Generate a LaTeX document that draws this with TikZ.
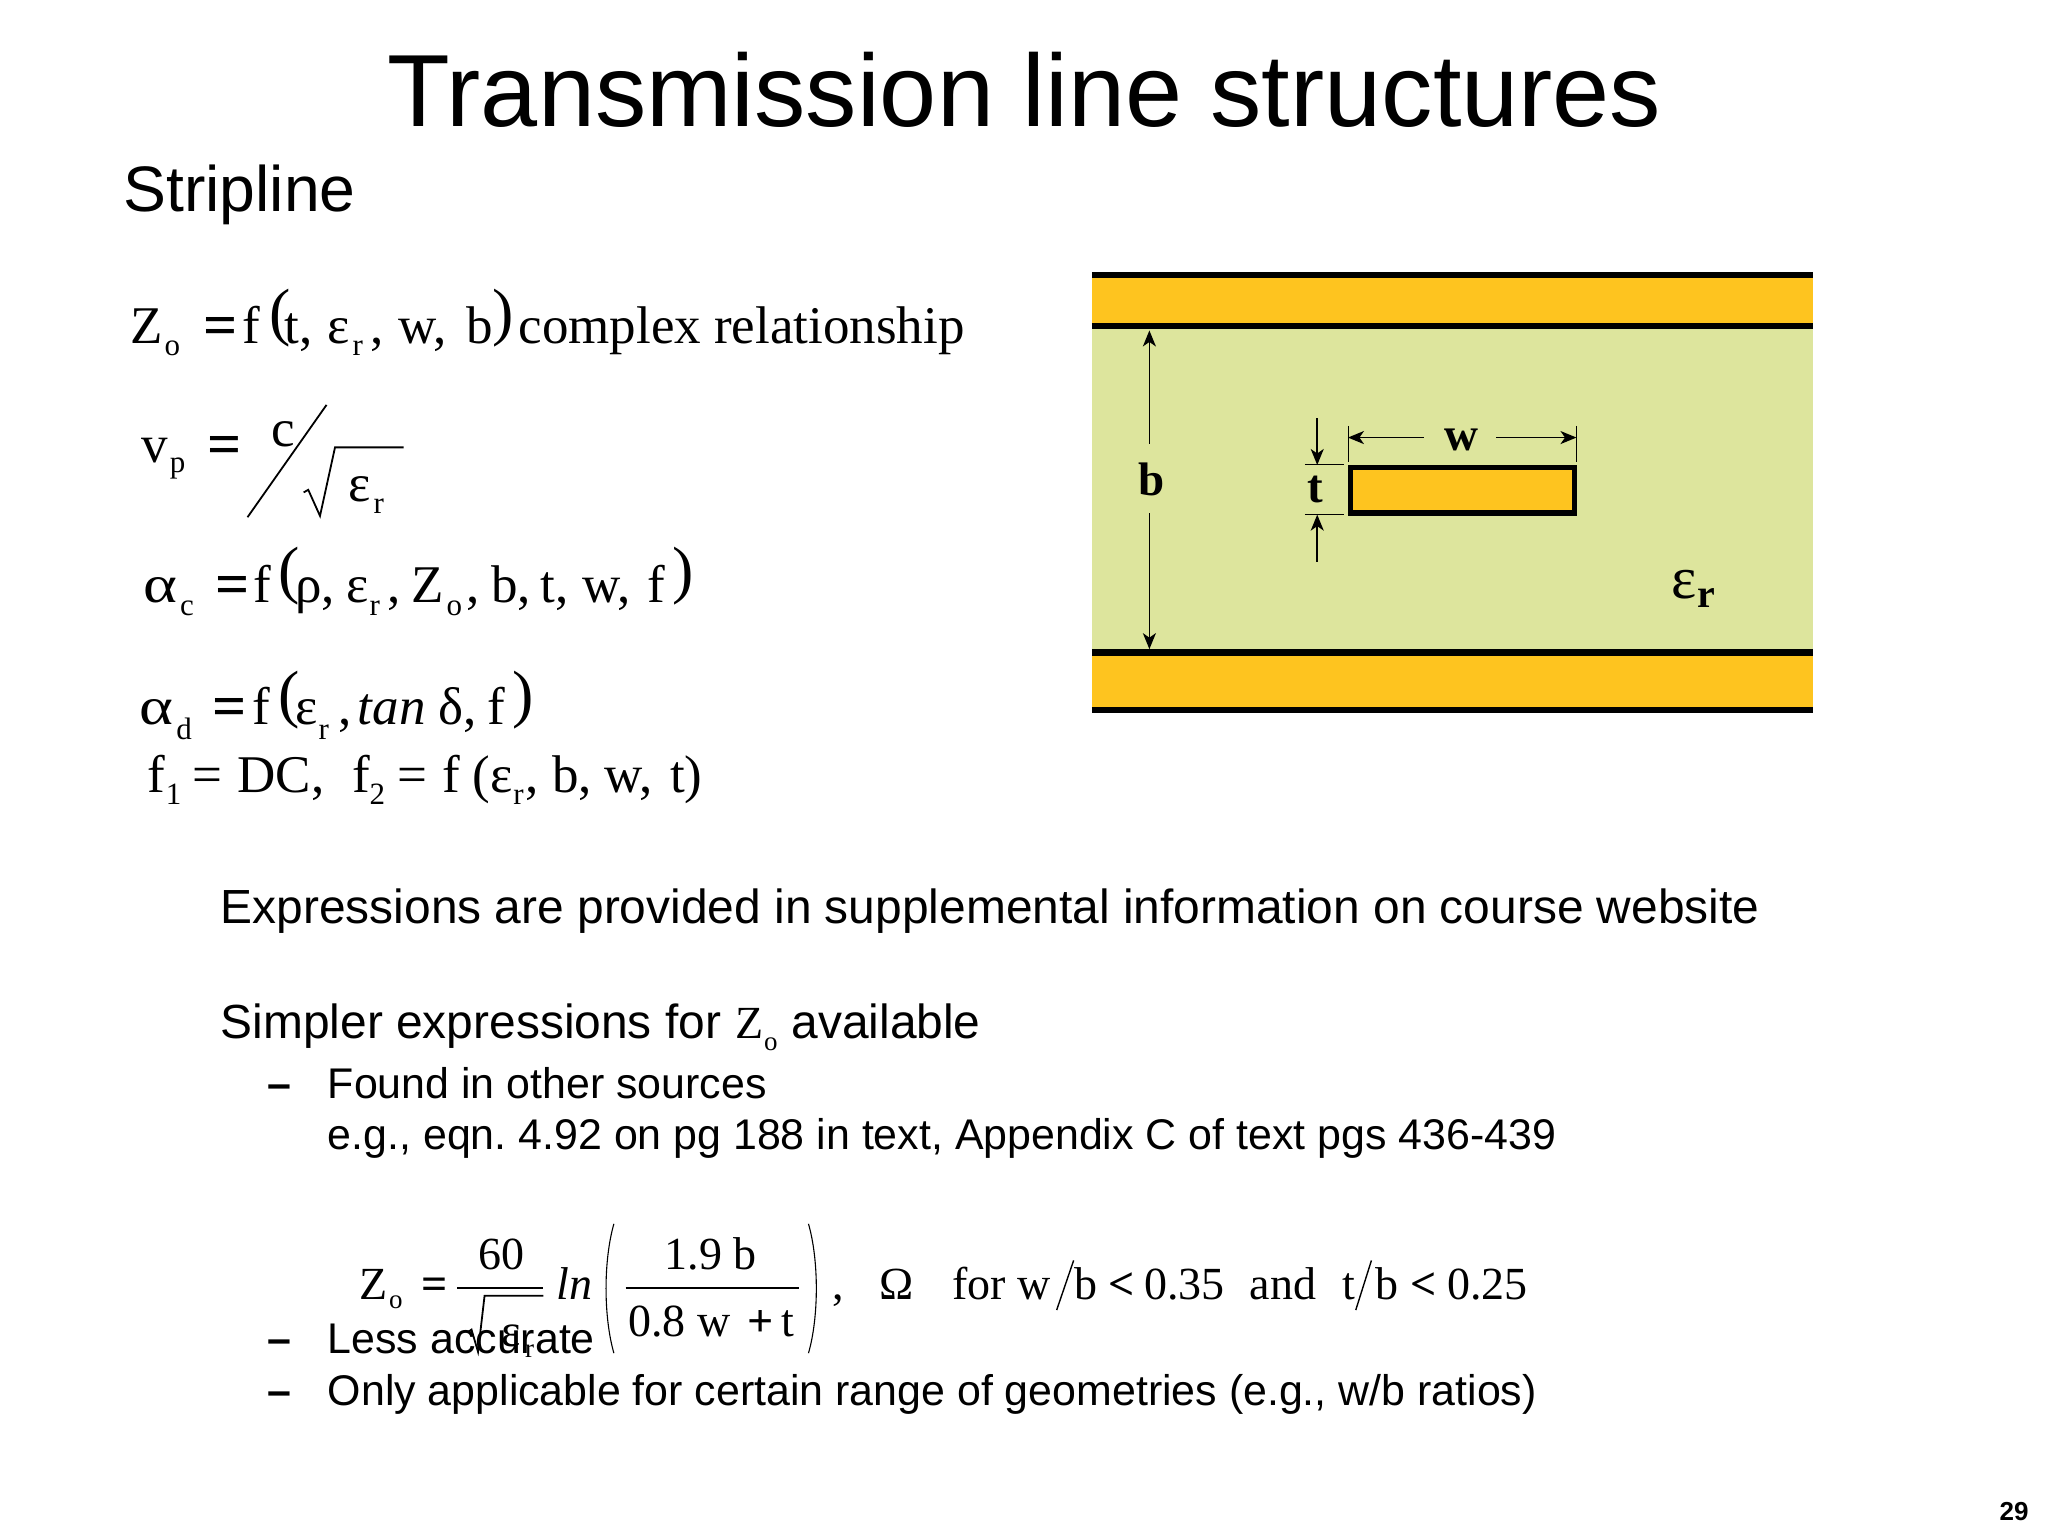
\documentclass[tikz,border=0pt]{standalone}
\usepackage{fontspec}
\setmainfont{Liberation Serif}
\setsansfont{Liberation Sans}
\usetikzlibrary{arrows.meta}
\definecolor{gold}{HTML}{FEC41F}
\definecolor{sub}{HTML}{DDE59D}
\newcounter{tn}
\newcommand\tx[4][]{\stepcounter{tn}\node[lbl,#2,#1] (n\thetn) at (#3) {#4};}
\newcommand\alphaw{\scalebox{1.22}[1]{α}}
\tikzset{
 lbl/.style={anchor=base west,inner sep=0pt,outer sep=0pt,text=black},
 title/.style={font=\sffamily\fontsize{102.6}{102}\selectfont},
 head/.style={font=\sffamily\fontsize{64.3}{64}\selectfont},
 para/.style={font=\sffamily\fontsize{47.9}{48}\selectfont},
 item/.style={font=\sffamily\fontsize{42.9}{43}\selectfont},
 dashmark/.style={font=\sffamily\bfseries\fontsize{42.9}{43}\selectfont},
 eq/.style={font=\fontsize{53}{53}\selectfont},
 eqb/.style={font=\bfseries\fontsize{60}{60}\selectfont},
 eqi/.style={font=\itshape\fontsize{53}{53}\selectfont},
 eqs/.style={font=\fontsize{31}{31}\selectfont},
 par/.style={font=\fontsize{64}{64}\selectfont},
 sm/.style={font=\fontsize{46}{46}\selectfont},
 smb/.style={font=\bfseries\fontsize{46}{46}\selectfont},
 smi/.style={font=\itshape\fontsize{46}{46}\selectfont},
 sms/.style={font=\fontsize{27}{27}\selectfont},
 dlab/.style={font=\bfseries\fontsize{47}{47}\selectfont},
 deps/.style={font=\fontsize{60}{60}\selectfont},
 dsub/.style={font=\bfseries\fontsize{40}{40}\selectfont},
 dim/.style={line width=1.8pt,{Stealth[length=16pt,width=13pt,inset=4.5pt]}-},
 tick/.style={line width=0.8pt},
 thin line/.style={line width=1.8pt},
 hair/.style={line width=1.4pt},
 bar/.style={line width=6.5pt},
}
\begin{document}
\frenchspacing
\begin{tikzpicture}[x=1.30612pt,y=-1.30612pt]
\useasboundingbox (0,0) rectangle (1568,1176);
\fill[white] (0,0) rectangle (1568,1176);
% diagram
\fill[sub] (836,250) rectangle (1388,500);
\fill[gold] (836,211) rectangle (1388,250);
\fill[gold] (836,500) rectangle (1388,544);
\draw[bar] (836,210.5) -- (1388,210.5);
\draw[bar] (836,249.5) -- (1388,249.5);
\draw[bar] (836,499.5) -- (1388,499.5);
\draw[bar] (836,543.5) -- (1388,543.5);
\node[draw=black,fill=gold,line width=5.5pt,inner sep=0pt,minimum width=171.5pt*1.30612,minimum height=34.5pt*1.30612,anchor=north west] (strip) at (1032,356) {};
\tx{dlab}{871.5,379}{b}
\tx{dlab}{1106,345}{w}
\tx{dlab}{1001,385}{t}
\tx{deps}{1280,458}{ε}
\tx{dsub}{1300,465}{r}
\coordinate (bt) at (880,253);
\coordinate (bu) at (880,340);
\coordinate (bl) at (880,393);
\coordinate (bb) at (880,497);
\draw[dim] (bt) -- (bu);
\draw[dim] (bb) -- (bl);
\coordinate (wl) at (1032,335);
\coordinate (wr) at (1207,335);
\coordinate (wa) at (1090,335);
\coordinate (wb) at (1145,335);
\draw[dim] (wl) -- (wa);
\draw[dim] (wr) -- (wb);
\coordinate (wl1) at (1032,326);
\coordinate (wl2) at (1032,354);
\coordinate (wr1) at (1207,326);
\coordinate (wr2) at (1207,354);
\draw[tick] (wl1) -- (wl2);
\draw[tick] (wr1) -- (wr2);
\coordinate (tt) at (1008.5,356);
\coordinate (ta) at (1008.5,320);
\coordinate (tb) at (1008.5,394);
\coordinate (tc) at (1008.5,430);
\draw[dim] (tt) -- (ta);
\draw[dim] (tb) -- (tc);
\coordinate (t1) at (999,355.5);
\coordinate (t2) at (1029,355.5);
\coordinate (t3) at (999,394);
\coordinate (t4) at (1029,394);
\draw[tick] (t1) -- (t2);
\draw[tick] (t3) -- (t4);
% title
\tx{title}{297,97}{Transmission line structures}
\tx{head}{94.5,162}{Stripline}
% eq 1
\tx{eq}{100,263}{Z}
\tx{eqs}{126,272}{o}
\tx{eqb}{156,264.5}{=}
\tx{eq}{186,263}{f}
\tx{par}{206,255.5}{(}
\tx{eq}{218,263}{t,}
\tx{eq}{251,263}{ε}
\tx{eqs}{270,272}{r}
\tx{eq}{284,263}{,}
\tx{eq}{305,263}{w,}
\tx{eq}{357,263}{b}
\tx{par}{377,255.5}{)}
\tx{eq}{397,263}{complex relationship}
% eq 2
\tx{eq}{108,354}{v}
\tx{eqs}{130,362}{p}
\tx{eqb}{159,355.5}{=}
\tx{eq}{208,342}{c}
\coordinate (s1) at (189.5,396);
\coordinate (s2) at (250,310);
\draw[thin line] (s1) -- (s2);
\coordinate (r1) at (232.5,377);
\coordinate (r2) at (236,375);
\coordinate (r3) at (245,395);
\coordinate (r4) at (256.5,342.5);
\coordinate (r5) at (309,342.5);
\draw[thin line] (r1) -- (r2) -- (r3) -- (r4) -- (r5);
\tx{eq}{267,384}{ε}
\tx{eqs}{286,393}{r}
% eq 3
\tx{eq}{110,461}{\alphaw}
\tx{eqs}{138,471}{c}
\tx{eqb}{165,462.5}{=}
\tx{eq}{194,461}{f}
\tx{par}{213,453}{(}
\tx{eq}{226,461}{ρ,}
\tx{eq}{265,461}{ε}
\tx{eqs}{283,471}{r}
\tx{eq}{297,461}{,}
\tx{eq}{315,461}{Z}
\tx{eqs}{342,471}{o}
\tx{eq}{357,461}{,}
\tx{eq}{376,461}{b,}
\tx{eq}{414,461}{t,}
\tx{eq}{446,461}{w,}
\tx{eq}{496,461}{f}
\tx{par}{515,453}{)}
% eq 4
\tx{eq}{107,555}{\alphaw}
\tx{eqs}{135,566}{d}
\tx{eqb}{163,556.5}{=}
\tx{eq}{193,555}{f}
\tx{par}{213,548}{(}
\tx{eq}{226,555}{ε}
\tx{eqs}{244,566}{r}
\tx{eq}{259,555}{,}
\tx{eqi}{274,555}{tan}
\tx{eq}{336,555}{δ,}
\tx{eq}{373,555}{f}
\tx{par}{392,548}{)}
% eq 5
\tx{eq}{113,607}{f}
\tx{eqs}{127,616}{1}
\tx{eq}{147,607}{=}
\tx{eq}{182,607}{DC,}
\tx{eq}{270,607}{f}
\tx{eqs}{283,616}{2}
\tx{eq}{304,607}{=}
\tx{eq}{339,607}{f}
\tx{eq}{362,607}{(ε}
\tx{eqs}{393,616}{r}
\tx{eq}{402,607}{,}
\tx{eq}{423,607}{b,}
\tx{eq}{463,607}{w,}
\tx{eq}{513,607}{t)}
% paragraphs
\tx{para}{169,707}{Expressions are provided in supplemental information on course website}
\tx{para}{169,795}{Simpler expressions for}
\tx{sm}{563,795}{Z}
\tx{sms}{585,804}{o}
\tx{para}{606,795}{available}
\tx{dashmark}{205,841}{–}
\tx{item}{251,841}{Found in other sources}
\tx{item}{251,880}{e.g., eqn. 4.92 on pg 188 in text, Appendix C of text pgs 436-439}
\tx{dashmark}{205,1036}{–}
\tx{item}{251,1036}{Less accurate}
\tx{dashmark}{205,1076}{–}
\tx{item}{251,1076}{Only applicable for certain range of geometries (e.g., w/b ratios)}
% bottom eq
\tx{sm}{275,995}{Z}
\tx{sms}{298,1002}{o}
\tx{smb}{323,995}{=}
\tx{sm}{366,972}{60}
\coordinate (f1) at (350,986);
\coordinate (f2) at (416,986);
\draw[thin line] (f1) -- (f2);
\coordinate (q1) at (358,1020);
\coordinate (q2) at (361,1018);
\coordinate (q3) at (366,1035);
\coordinate (q4) at (371,992);
\coordinate (q5) at (416,992);
\draw[thin line] (q1) -- (q2) -- (q3) -- (q4) -- (q5);
\tx{sm}{384,1031}{ε}
\tx{sms}{402,1039}{r}
\tx{smi}{426,995}{ln}
\draw[line width=1.1pt] (470,937) .. controls (462,965) and (462,1008) .. (470,1036) coordinate (lp);
\draw[line width=1.1pt] (619,937) .. controls (627,965) and (627,1008) .. (619,1036) coordinate (rp);
\tx{sm}{509,972}{1.9 b}
\coordinate (g1) at (479,986);
\coordinate (g2) at (612,986);
\draw[thin line] (g1) -- (g2);
\tx{sm}{481,1023}{0.8 w}
\tx{smb}{572,1023}{+}
\tx{sm}{598,1023}{t}
\tx{sm}{637,995}{,}
\tx{sm}{673,995}{Ω}
\tx{sm}{729,995}{for w}
\coordinate (h1) at (809,1003);
\coordinate (h2) at (822,965);
\draw[hair] (h1) -- (h2);
\tx{sm}{823,995}{b}
\tx{smb}{849,995}{<}
\tx{sm}{876,995}{0.35}
\tx{sm}{957,995}{and}
\tx{sm}{1028,995}{t}
\coordinate (h3) at (1038,1003);
\coordinate (h4) at (1050,965);
\draw[hair] (h3) -- (h4);
\tx{sm}{1053,995}{b}
\tx{smb}{1080,995}{<}
\tx{sm}{1108,995}{0.25}
% page
\tx{font=\sffamily\bfseries\fontsize{26}{26}\selectfont}{1531,1164}{29}
\end{tikzpicture}
\end{document}
